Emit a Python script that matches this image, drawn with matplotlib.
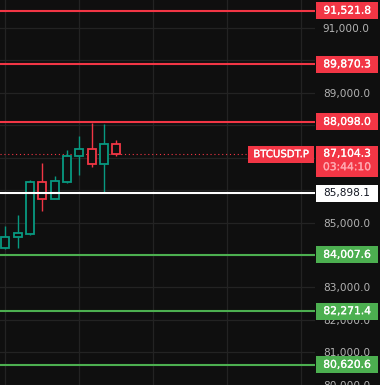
import matplotlib
matplotlib.use("Agg")
import matplotlib.pyplot as plt
import matplotlib.patheffects as pe
from matplotlib.patches import Rectangle
from matplotlib.transforms import blended_transform_factory
from matplotlib.ticker import FuncFormatter, MultipleLocator

# ---- data ----
opens  = [84220, 84559, 84651, 86251, 85728, 86251, 87051, 87266, 86805, 87420]
highs  = [84897, 85236, 86313, 86836, 86436, 87236, 87667, 88067, 88036, 87543]
lows   = [84190, 84220, 84620, 85359, 85728, 86220, 86467, 86713, 85913, 87051]
closes = [84559, 84682, 86251, 85728, 86282, 87051, 87266, 86805, 87420, 87104.3]

resistance_levels = [91521.8, 89870.3, 88098.0]
pivot_level = 85898.1
support_levels = [84007.6, 82271.4, 80620.6]
current_price = 87104.3
symbol = "BTCUSDT.P"
countdown = "03:44:10"

BG = "#0f0f0f"
GRID = "#232323"
UP = "#089981"
DOWN = "#f23645"
RED = "#f23645"
GREEN = "#4caf50"
TICK = "#b2b2b2"

W, H = 380, 385
fig = plt.figure(figsize=(W / 100, H / 100), dpi=100, facecolor=BG)
ax_w_px = 315
ax = fig.add_axes([0, 0, ax_w_px / W, 1])
ax.set_facecolor(BG)
ax.set_xlim(-0.43, 25.12)
ax.set_ylim(79998, 91851)
ylo, yhi = ax.get_ylim()
upp = (yhi - ylo) / H  # data units per pixel

for s in ax.spines.values():
    s.set_visible(False)

ax.yaxis.tick_right()
ax.yaxis.set_major_locator(MultipleLocator(1000))
ax.yaxis.set_major_formatter(FuncFormatter(lambda v, p: f"{v:,.1f}"))
ax.tick_params(axis="y", length=0, pad=5.6, labelsize=7.6, labelcolor=TICK)
ax.set_xticks([0, 6, 12, 18, 24])
ax.tick_params(axis="x", length=0, labelbottom=False)
ax.grid(True, color=GRID, linewidth=0.9)
ax.set_axisbelow(True)
for lab in ax.get_yticklabels():
    lab.set_fontfamily("DejaVu Sans")

# ---- candles (hollow) ----
bw = 0.65
for i, (o, h, l, c) in enumerate(zip(opens, highs, lows, closes)):
    col = UP if c >= o else DOWN
    top, bot = max(o, c), min(o, c)
    ax.vlines(i, top, h, color=col, linewidth=1.0, zorder=3)
    ax.vlines(i, l, bot, color=col, linewidth=1.0, zorder=3)
    ax.add_patch(Rectangle((i - bw / 2, bot), bw, max(top - bot, upp), facecolor=BG,
                           edgecolor=col, linewidth=1.3, zorder=4))

# ---- levels ----
tr = blended_transform_factory(ax.transAxes, ax.transData)
x0 = 316 / ax_w_px
bx_w = 62 / ax_w_px
xc = 347 / ax_w_px
bh = 17 * upp
BOX_FS = 7.7


def box_text(x, y, s, color, fs=BOX_FS):
    ax.text(x, y, s, transform=tr, ha="center", va="center", color=color,
            fontsize=fs, family="DejaVu Sans", clip_on=False, zorder=11,
            path_effects=[pe.withStroke(linewidth=0.2, foreground=color)])


def level_box(val, fc, tc, text):
    ax.add_patch(Rectangle((x0, val - bh / 2), bx_w, bh, transform=tr, facecolor=fc,
                           edgecolor="none", clip_on=False, zorder=10))
    box_text(xc, val, text, tc)


for v in resistance_levels:
    ax.axhline(v, color=RED, linewidth=1.5, zorder=5)
    level_box(v, RED, "white", f"{v:,.1f}")
for v in support_levels:
    ax.axhline(v, color=GREEN, linewidth=1.5, zorder=5)
    level_box(v, GREEN, "white", f"{v:,.1f}")
ax.axhline(pivot_level, color="white", linewidth=1.5, zorder=5)
ax.add_patch(Rectangle((x0, pivot_level - bh / 2), bx_w, bh, transform=tr, facecolor="white",
                       edgecolor="none", clip_on=False, zorder=10))
ax.text(xc, pivot_level, f"{pivot_level:,.1f}", transform=tr, ha="center", va="center",
        color="#131722", fontsize=7.6, family="DejaVu Sans", clip_on=False, zorder=11)

# current price dotted line
ax.plot([-0.43, 25.12 * 248 / 315 - 0.43 * (1 - 248 / 315)], [current_price, current_price],
        color=RED, linewidth=0.8, linestyle=(0, (1, 2.5)), zorder=2)
# symbol label
sx0 = 248 / ax_w_px
ax.add_patch(Rectangle((sx0, current_price - 8.5 * upp), 66 / ax_w_px, 16.5 * upp,
                       transform=tr, facecolor=RED, edgecolor="none", clip_on=False, zorder=10))
box_text(281 / ax_w_px, current_price, symbol, "white", fs=7.3)
# price + countdown label
ax.add_patch(Rectangle((x0, current_price - 22.5 * upp), bx_w, 30.5 * upp, transform=tr,
                       facecolor=RED, edgecolor="none", clip_on=False, zorder=10))
box_text(xc, current_price + 0.5 * upp, f"{current_price:,.1f}", "white")
box_text(xc, current_price - 13 * upp, countdown, "#ffa8b0")

fig.savefig("out.png", dpi=100, facecolor=BG)
